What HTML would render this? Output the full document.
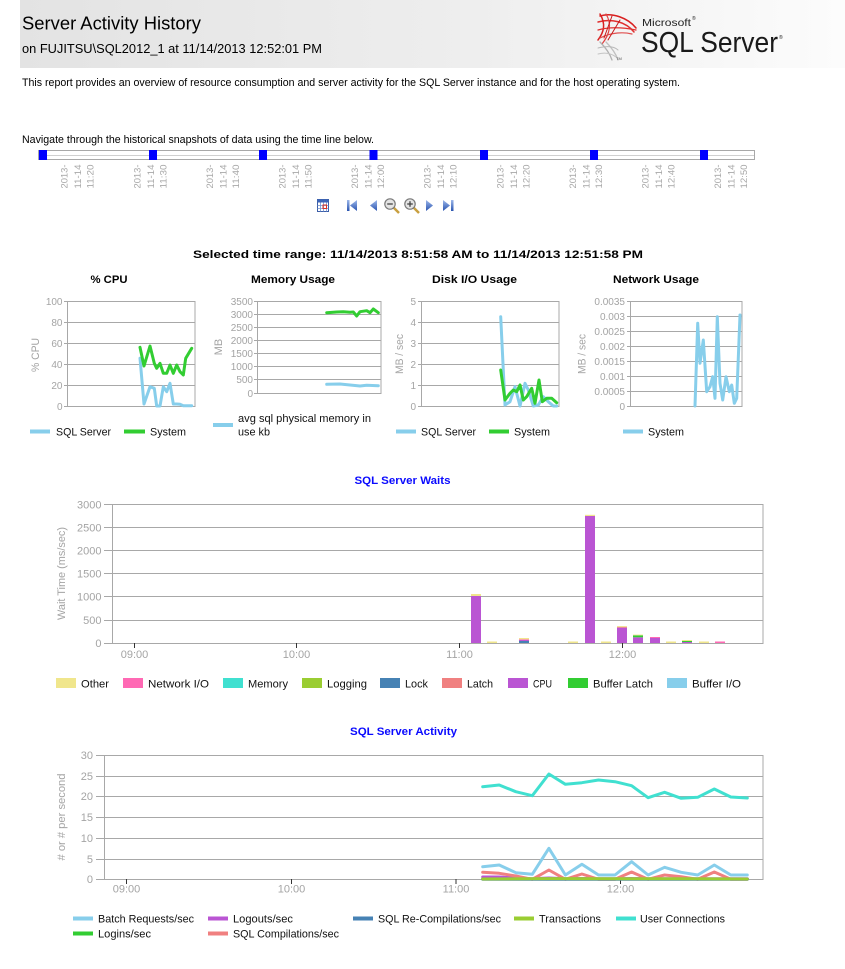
<!DOCTYPE html>
<html><head><meta charset="utf-8">
<style>
html,body{margin:0;padding:0;background:#fff;width:845px;height:969px;overflow:hidden;}
svg{display:block;}
text{font-family:"Liberation Sans",Arial,sans-serif;}
.ax{fill:#a4a4a4;font-size:10px;}
.ax11{fill:#a4a4a4;font-size:11px;}
.lg{fill:#111;font-size:11px;}
.tt{fill:#000;font-size:11px;font-weight:bold;}
.bt{fill:#0a0aff;font-size:11px;font-weight:bold;}
.tl{fill:#a8a8a8;font-size:9px;font-family:"Liberation Mono",monospace;}
.grid{stroke:#a8a8a8;stroke-width:1;fill:none;}
.ln{fill:none;stroke-width:3;stroke-linejoin:round;stroke-linecap:round;}
</style></head><body>
<svg width="845" height="969" viewBox="0 0 845 969" xmlns="http://www.w3.org/2000/svg">
<defs>
<linearGradient id="hg" x1="0" x2="1" y1="0" y2="0">
<stop offset="0" stop-color="#e3e3e3"/><stop offset="0.55" stop-color="#eeeeee"/><stop offset="1" stop-color="#fcfcfc"/>
</linearGradient>
<linearGradient id="bl" x1="0" x2="0" y1="0" y2="1">
<stop offset="0" stop-color="#9db8ea"/><stop offset="1" stop-color="#2a55b0"/>
</linearGradient>
</defs>

<!-- Header -->
<rect x="20" y="0" width="825" height="68" fill="url(#hg)"/>
<text x="22" y="29.5" font-size="18" textLength="179" lengthAdjust="spacingAndGlyphs" fill="#000">Server Activity History</text>
<text x="22" y="53" font-size="13" textLength="300" lengthAdjust="spacingAndGlyphs" fill="#000">on FUJITSU\SQL2012_1 at 11/14/2013 12:52:01 PM</text>

<!-- Logo -->
<g fill="none" stroke-linecap="round">
<path d="M600 16 C612 12,628 18,636 28" stroke="#d92020" stroke-width="1.5"/>
<path d="M598 22 C612 18,626 22,634 32" stroke="#e03030" stroke-width="1.5"/>
<path d="M600 14 C606 24,604 32,598 40" stroke="#d92020" stroke-width="1.5"/>
<path d="M606 14 C612 24,610 34,602 44" stroke="#e04040" stroke-width="1.2"/>
<path d="M598 30 C612 26,626 28,636 30" stroke="#e03030" stroke-width="1.3"/>
<path d="M600 38 C612 32,624 32,632 34" stroke="#e05050" stroke-width="1.2"/>
<path d="M612 16 L604 38" stroke="#c81818" stroke-width="1"/>
<path d="M620 20 L608 40" stroke="#c81818" stroke-width="1"/>
<path d="M600 42 C606 48,610 54,612 60" stroke="#b0b0b0" stroke-width="1.3"/>
<path d="M606 42 C612 48,616 54,618 60" stroke="#c0c0c0" stroke-width="1.3"/>
<path d="M598 48 C606 46,614 46,618 50" stroke="#b8b8b8" stroke-width="1"/>
<path d="M598 54 C606 52,612 54,616 57" stroke="#c4c4c4" stroke-width="1"/>
</g>
<text x="616" y="60" font-size="4" fill="#555">TM</text>
<text x="642" y="26" font-size="10.5" textLength="49" lengthAdjust="spacingAndGlyphs" fill="#222">Microsoft</text>
<text x="692" y="20" font-size="5" fill="#222">®</text>
<text x="641" y="52" font-size="29" textLength="137" lengthAdjust="spacingAndGlyphs" fill="#1a1a1a">SQL Server</text>
<text x="779" y="39" font-size="5" fill="#222">®</text>

<text x="22" y="86" font-size="11" textLength="658" lengthAdjust="spacingAndGlyphs" fill="#000">This report provides an overview of resource consumption and server activity for the SQL Server instance and for the host operating system.</text>
<text x="22" y="143" font-size="11" textLength="352" lengthAdjust="spacingAndGlyphs" fill="#000">Navigate through the historical snapshots of data using the time line below.</text>

<!-- Timeline -->
<rect x="38.5" y="150.5" width="716" height="9" fill="#fff" stroke="#a8a8a8"/>
<line x1="39" y1="155.5" x2="754" y2="155.5" stroke="#d0d0d0"/>
<g fill="#0000ff">
<rect x="39" y="150" width="8" height="10"/>
<rect x="149" y="150" width="8" height="10"/>
<rect x="259" y="150" width="8" height="10"/>
<rect x="369.5" y="150" width="8" height="10"/>
<rect x="480" y="150" width="8" height="10"/>
<rect x="590" y="150" width="8" height="10"/>
<rect x="700" y="150" width="8" height="10"/>
</g>
<g class="tl">
<text transform="translate(64.5,188.5) rotate(-90)" dy="0.35em" textLength="24" lengthAdjust="spacingAndGlyphs">2013-</text>
<text transform="translate(78,188.5) rotate(-90)" dy="0.35em" textLength="24" lengthAdjust="spacingAndGlyphs">11-14</text>
<text transform="translate(90.5,188.5) rotate(-90)" dy="0.35em" textLength="24" lengthAdjust="spacingAndGlyphs">11:20</text>
<text transform="translate(137.1,188.5) rotate(-90)" dy="0.35em" textLength="24" lengthAdjust="spacingAndGlyphs">2013-</text>
<text transform="translate(150.6,188.5) rotate(-90)" dy="0.35em" textLength="24" lengthAdjust="spacingAndGlyphs">11-14</text>
<text transform="translate(163.1,188.5) rotate(-90)" dy="0.35em" textLength="24" lengthAdjust="spacingAndGlyphs">11:30</text>
<text transform="translate(209.7,188.5) rotate(-90)" dy="0.35em" textLength="24" lengthAdjust="spacingAndGlyphs">2013-</text>
<text transform="translate(223.2,188.5) rotate(-90)" dy="0.35em" textLength="24" lengthAdjust="spacingAndGlyphs">11-14</text>
<text transform="translate(235.7,188.5) rotate(-90)" dy="0.35em" textLength="24" lengthAdjust="spacingAndGlyphs">11:40</text>
<text transform="translate(282.3,188.5) rotate(-90)" dy="0.35em" textLength="24" lengthAdjust="spacingAndGlyphs">2013-</text>
<text transform="translate(295.8,188.5) rotate(-90)" dy="0.35em" textLength="24" lengthAdjust="spacingAndGlyphs">11-14</text>
<text transform="translate(308.3,188.5) rotate(-90)" dy="0.35em" textLength="24" lengthAdjust="spacingAndGlyphs">11:50</text>
<text transform="translate(354.9,188.5) rotate(-90)" dy="0.35em" textLength="24" lengthAdjust="spacingAndGlyphs">2013-</text>
<text transform="translate(368.4,188.5) rotate(-90)" dy="0.35em" textLength="24" lengthAdjust="spacingAndGlyphs">11-14</text>
<text transform="translate(380.9,188.5) rotate(-90)" dy="0.35em" textLength="24" lengthAdjust="spacingAndGlyphs">12:00</text>
<text transform="translate(427.5,188.5) rotate(-90)" dy="0.35em" textLength="24" lengthAdjust="spacingAndGlyphs">2013-</text>
<text transform="translate(441,188.5) rotate(-90)" dy="0.35em" textLength="24" lengthAdjust="spacingAndGlyphs">11-14</text>
<text transform="translate(453.5,188.5) rotate(-90)" dy="0.35em" textLength="24" lengthAdjust="spacingAndGlyphs">12:10</text>
<text transform="translate(500.1,188.5) rotate(-90)" dy="0.35em" textLength="24" lengthAdjust="spacingAndGlyphs">2013-</text>
<text transform="translate(513.6,188.5) rotate(-90)" dy="0.35em" textLength="24" lengthAdjust="spacingAndGlyphs">11-14</text>
<text transform="translate(526.1,188.5) rotate(-90)" dy="0.35em" textLength="24" lengthAdjust="spacingAndGlyphs">12:20</text>
<text transform="translate(572.7,188.5) rotate(-90)" dy="0.35em" textLength="24" lengthAdjust="spacingAndGlyphs">2013-</text>
<text transform="translate(586.2,188.5) rotate(-90)" dy="0.35em" textLength="24" lengthAdjust="spacingAndGlyphs">11-14</text>
<text transform="translate(598.7,188.5) rotate(-90)" dy="0.35em" textLength="24" lengthAdjust="spacingAndGlyphs">12:30</text>
<text transform="translate(645.3,188.5) rotate(-90)" dy="0.35em" textLength="24" lengthAdjust="spacingAndGlyphs">2013-</text>
<text transform="translate(658.8,188.5) rotate(-90)" dy="0.35em" textLength="24" lengthAdjust="spacingAndGlyphs">11-14</text>
<text transform="translate(671.3,188.5) rotate(-90)" dy="0.35em" textLength="24" lengthAdjust="spacingAndGlyphs">12:40</text>
<text transform="translate(717.9,188.5) rotate(-90)" dy="0.35em" textLength="24" lengthAdjust="spacingAndGlyphs">2013-</text>
<text transform="translate(731.4,188.5) rotate(-90)" dy="0.35em" textLength="24" lengthAdjust="spacingAndGlyphs">11-14</text>
<text transform="translate(743.9,188.5) rotate(-90)" dy="0.35em" textLength="24" lengthAdjust="spacingAndGlyphs">12:50</text>
</g>

<!-- Nav icons -->
<g>
<rect x="317.5" y="199.5" width="11" height="12" fill="#fff" stroke="#3c5fa8"/>
<rect x="317.5" y="199.5" width="11" height="3" fill="#3c64b8"/>
<path d="M317.5 205.5 H328.5 M317.5 208.5 H328.5 M320.5 202.5 V211.5 M323.5 202.5 V211.5 M326.5 202.5 V211.5" stroke="#7090d0" stroke-width="0.8"/>
<rect x="323" y="205" width="3.5" height="3.5" fill="none" stroke="#e03020" stroke-width="1"/>
<rect x="347" y="200" width="2.5" height="11" fill="url(#bl)"/>
<path d="M357 200 L357 211 L350 205.5 Z" fill="url(#bl)"/>
<path d="M377 200 L377 211 L370 205.5 Z" fill="url(#bl)"/>
<line x1="393.5" y1="207.5" x2="399" y2="213" stroke="#c8a040" stroke-width="2.5"/>
<circle cx="390" cy="204" r="5.2" fill="#e4e4e4" stroke="#7a7a7a" stroke-width="1.2"/>
<line x1="387.2" y1="204" x2="392.8" y2="204" stroke="#444" stroke-width="1.3"/>
<line x1="413.5" y1="207.5" x2="419" y2="213" stroke="#c8a040" stroke-width="2.5"/>
<circle cx="410" cy="204" r="5.2" fill="#e4e4e4" stroke="#7a7a7a" stroke-width="1.2"/>
<line x1="407.2" y1="204" x2="412.8" y2="204" stroke="#444" stroke-width="1.3"/>
<line x1="410" y1="201.2" x2="410" y2="206.8" stroke="#444" stroke-width="1.3"/>
<path d="M426 200 L426 211 L433 205.5 Z" fill="url(#bl)"/>
<path d="M443 200 L443 211 L450 205.5 Z" fill="url(#bl)"/>
<rect x="451" y="200" width="2.5" height="11" fill="url(#bl)"/>
</g>

<text x="193" y="258" class="tt" textLength="450" lengthAdjust="spacingAndGlyphs">Selected time range:  11/14/2013 8:51:58 AM to 11/14/2013 12:51:58 PM</text>

<!-- Small chart titles -->
<text x="109" y="283" class="tt" text-anchor="middle" textLength="37" lengthAdjust="spacingAndGlyphs">% CPU</text>
<text x="293" y="283" class="tt" text-anchor="middle" textLength="84" lengthAdjust="spacingAndGlyphs">Memory Usage</text>
<text x="474.5" y="283" class="tt" text-anchor="middle" textLength="85" lengthAdjust="spacingAndGlyphs">Disk I/O Usage</text>
<text x="656" y="283" class="tt" text-anchor="middle" textLength="86" lengthAdjust="spacingAndGlyphs">Network Usage</text>

<!-- CPU chart -->
<g class="grid">
<path d="M64 301.5 H195 M64 322.5 H195 M64 343.5 H195 M64 364.5 H195 M64 385.5 H195 M64 406.5 H195"/>
<rect x="67.5" y="301.5" width="127.5" height="105"/>
</g>
<g class="ax" text-anchor="end">
<text x="62.5" y="305">100</text><text x="62.5" y="326">80</text><text x="62.5" y="347">60</text>
<text x="62.5" y="368">40</text><text x="62.5" y="389">20</text><text x="62.5" y="410">0</text>
</g>
<text class="ax11" transform="translate(35,355) rotate(-90)" text-anchor="middle" dy="0.35em" textLength="34" lengthAdjust="spacingAndGlyphs">% CPU</text>
<polyline class="ln" stroke="#87ceeb" points="140,358.3 144,404 150,386.7 154.3,388.3 156.7,406 160,406 163.3,386.7 166.7,391.7 170,383.3 173.3,404 176.7,404 180,404.3 183.3,405.7 186.7,405.7 191.7,405.7"/>
<polyline class="ln" stroke="#32cd32" points="140,347.3 144,366 150,346 154.3,363.3 156.7,368.3 160,363.3 163.3,373.3 166.7,373.3 170,365 173.3,373.3 176.7,365 180,371.7 183.3,375 185.7,358.3 191.7,348.3"/>
<line x1="30" y1="431.5" x2="50" y2="431.5" stroke="#87ceeb" stroke-width="4"/>
<text x="56" y="435.5" class="lg" textLength="55" lengthAdjust="spacingAndGlyphs">SQL Server</text>
<line x1="124" y1="431.5" x2="145" y2="431.5" stroke="#32cd32" stroke-width="4"/>
<text x="150" y="435.5" class="lg" textLength="36" lengthAdjust="spacingAndGlyphs">System</text>

<!-- Memory chart -->
<g class="grid">
<path d="M254 301.5 H381 M254 314.5 H381 M254 327.5 H381 M254 340.5 H381 M254 353.5 H381 M254 366.5 H381 M254 379.5 H381 M254 393.5 H381"/>
<rect x="257.5" y="301.5" width="123.5" height="92"/>
</g>
<g class="ax" text-anchor="end">
<text x="253" y="305">3500</text><text x="253" y="318">3000</text><text x="253" y="331">2500</text>
<text x="253" y="344">2000</text><text x="253" y="357">1500</text><text x="253" y="370">1000</text>
<text x="253" y="383">500</text><text x="253" y="397">0</text>
</g>
<text class="ax11" transform="translate(218,347) rotate(-90)" text-anchor="middle" dy="0.35em">MB</text>
<polyline class="ln" stroke="#32cd32" points="326.7,312.7 336.7,312 343.3,311.7 350,312.3 353.3,312 356.7,316 360,311.7 366.7,310.7 370,312.7 373.3,309 378.3,312.7"/>
<polyline class="ln" stroke="#87ceeb" points="326.7,384.3 340,384 350,385 360,386 366.7,385.3 378.3,385.7"/>
<line x1="213" y1="425" x2="233" y2="425" stroke="#87ceeb" stroke-width="4"/>
<text x="238" y="422" class="lg" textLength="133" lengthAdjust="spacingAndGlyphs">avg sql physical memory in</text>
<text x="238" y="435.5" class="lg" textLength="32" lengthAdjust="spacingAndGlyphs">use kb</text>

<!-- Disk chart -->
<g class="grid">
<path d="M418 301.5 H559 M418 322.5 H559 M418 343.5 H559 M418 364.5 H559 M418 385.5 H559 M418 406.5 H559"/>
<rect x="421.5" y="301.5" width="137.5" height="105"/>
</g>
<g class="ax" text-anchor="end">
<text x="416" y="305">5</text><text x="416" y="326">4</text><text x="416" y="347">3</text>
<text x="416" y="368">2</text><text x="416" y="389">1</text><text x="416" y="410">0</text>
</g>
<text class="ax11" transform="translate(399,354) rotate(-90)" text-anchor="middle" dy="0.35em" textLength="40" lengthAdjust="spacingAndGlyphs">MB / sec</text>
<polyline class="ln" stroke="#87ceeb" points="500.7,316.7 505,405 510,401.7 515,386.7 520,406 525,383.3 528.3,390 533.3,406 538.3,405 543.3,396.7 548.3,401.7 553.3,406 556.7,406"/>
<polyline class="ln" stroke="#32cd32" points="500.7,370 505,400 510,393.3 513.3,390 516.7,391.7 520,385 523.3,400 526.7,396.7 531.7,388.3 535,403.3 539,380 542.3,401.7 546.7,398.3 551.7,398.3 556.7,402.7"/>
<line x1="396" y1="431.5" x2="416" y2="431.5" stroke="#87ceeb" stroke-width="4"/>
<text x="421" y="435.5" class="lg" textLength="55" lengthAdjust="spacingAndGlyphs">SQL Server</text>
<line x1="489" y1="431.5" x2="509" y2="431.5" stroke="#32cd32" stroke-width="4"/>
<text x="514" y="435.5" class="lg" textLength="36" lengthAdjust="spacingAndGlyphs">System</text>

<!-- Network chart -->
<g class="grid">
<path d="M627 301.5 H742 M627 316.5 H742 M627 331.5 H742 M627 346.5 H742 M627 361.5 H742 M627 376.5 H742 M627 391.5 H742 M627 406.5 H742"/>
<rect x="630.5" y="301.5" width="111.5" height="105"/>
</g>
<g class="ax" text-anchor="end">
<text x="625" y="305">0.0035</text><text x="625" y="320">0.003</text><text x="625" y="335">0.0025</text>
<text x="625" y="350">0.002</text><text x="625" y="365">0.0015</text><text x="625" y="380">0.001</text>
<text x="625" y="395">0.0005</text><text x="625" y="410">0</text>
</g>
<text class="ax11" transform="translate(581.5,354) rotate(-90)" text-anchor="middle" dy="0.35em" textLength="40" lengthAdjust="spacingAndGlyphs">MB / sec</text>
<polyline class="ln" stroke="#87ceeb" points="695,406 697.7,323.3 700,363.3 703.3,340 706.7,391.7 710,386.7 712.7,376.7 715,398.3 717.3,316.7 720,383.3 722.7,400 726,376.7 729.3,391.7 731.7,385 734.3,403.3 736.7,398.3 740,315"/>
<line x1="623" y1="431.5" x2="643" y2="431.5" stroke="#87ceeb" stroke-width="4"/>
<text x="648" y="435.5" class="lg" textLength="36" lengthAdjust="spacingAndGlyphs">System</text>

<!-- SQL Server Waits -->
<text x="402.5" y="484" class="bt" text-anchor="middle" textLength="96" lengthAdjust="spacingAndGlyphs">SQL Server Waits</text>
<g class="grid">
<path d="M104 504.5 H763 M104 527.5 H763 M104 550.5 H763 M104 573.5 H763 M104 596.5 H763 M104 620.5 H763 M104 643.5 H763"/>
<rect x="112.5" y="504.5" width="650.5" height="139"/>
</g>
<g class="ax11" text-anchor="end">
<text x="101.5" y="508.5">3000</text><text x="101.5" y="531.5">2500</text><text x="101.5" y="554.5">2000</text>
<text x="101.5" y="577.5">1500</text><text x="101.5" y="600.5">1000</text><text x="101.5" y="624">500</text>
<text x="101.5" y="647">0</text>
</g>
<text class="ax11" transform="translate(61,573.5) rotate(-90)" text-anchor="middle" dy="0.35em" textLength="93" lengthAdjust="spacingAndGlyphs">Wait Time (ms/sec)</text>
<g stroke="#333" stroke-width="1">
<line x1="134.5" y1="643" x2="134.5" y2="648"/><line x1="296.5" y1="643" x2="296.5" y2="648"/>
<line x1="459.5" y1="643" x2="459.5" y2="648"/><line x1="622.5" y1="643" x2="622.5" y2="648"/>
</g>
<g class="ax11" text-anchor="middle">
<text x="134.5" y="658">09:00</text><text x="296.5" y="658">10:00</text><text x="459.5" y="658">11:00</text><text x="622.5" y="658">12:00</text>
</g>
<!-- bars -->
<g>
<rect x="471" y="596" width="10" height="47" fill="#ba55d3"/>
<rect x="471" y="594" width="10" height="2" fill="#f0e68c"/>
<rect x="487" y="641.5" width="10" height="1.5" fill="#f0e68c"/>
<rect x="519" y="641" width="10" height="2" fill="#4682b4"/>
<rect x="519" y="640" width="10" height="1" fill="#ba55d3"/>
<rect x="519" y="639.3" width="10" height="0.8" fill="#ff69b4"/>
<rect x="519" y="638" width="10" height="1.3" fill="#f0e68c"/>
<rect x="568" y="641.5" width="10" height="1.5" fill="#f0e68c"/>
<rect x="585" y="516" width="10" height="127" fill="#ba55d3"/>
<rect x="585" y="514.8" width="10" height="1.2" fill="#f0e68c"/>
<rect x="601" y="641.5" width="10" height="1.5" fill="#f0e68c"/>
<rect x="617" y="627.7" width="10" height="15.3" fill="#ba55d3"/>
<rect x="617" y="626.8" width="10" height="0.9" fill="#f08080"/>
<rect x="617" y="626" width="10" height="0.8" fill="#f0e68c"/>
<rect x="633" y="637.3" width="10" height="5.7" fill="#ba55d3"/>
<rect x="633" y="635.3" width="10" height="2" fill="#32cd32"/>
<rect x="633" y="634.6" width="10" height="0.7" fill="#f0e68c"/>
<rect x="650" y="638" width="10" height="5" fill="#ba55d3"/>
<rect x="650" y="637" width="10" height="1" fill="#ff69b4"/>
<rect x="666" y="641.5" width="10" height="1.5" fill="#f0e68c"/>
<rect x="682" y="642" width="10" height="1" fill="#ba55d3"/>
<rect x="682" y="641" width="10" height="1" fill="#32cd32"/>
<rect x="682" y="640" width="10" height="1" fill="#f0e68c"/>
<rect x="699" y="641.5" width="10" height="1.5" fill="#f0e68c"/>
<rect x="715" y="641.5" width="10" height="1.5" fill="#ff69b4"/>
</g>
<!-- waits legend -->
<g>
<rect x="56" y="678" width="20" height="10" fill="#f0e68c"/>
<text x="81" y="687.5" class="lg" textLength="28" lengthAdjust="spacingAndGlyphs">Other</text>
<rect x="123" y="678" width="20" height="10" fill="#ff69b4"/>
<text x="148" y="687.5" class="lg" textLength="61" lengthAdjust="spacingAndGlyphs">Network I/O</text>
<rect x="223" y="678" width="20" height="10" fill="#40e0d0"/>
<text x="248" y="687.5" class="lg" textLength="40" lengthAdjust="spacingAndGlyphs">Memory</text>
<rect x="302" y="678" width="20" height="10" fill="#9acd32"/>
<text x="327" y="687.5" class="lg" textLength="40" lengthAdjust="spacingAndGlyphs">Logging</text>
<rect x="380" y="678" width="20" height="10" fill="#4682b4"/>
<text x="405" y="687.5" class="lg" textLength="23" lengthAdjust="spacingAndGlyphs">Lock</text>
<rect x="442" y="678" width="20" height="10" fill="#f08080"/>
<text x="467" y="687.5" class="lg" textLength="26" lengthAdjust="spacingAndGlyphs">Latch</text>
<rect x="508" y="678" width="20" height="10" fill="#ba55d3"/>
<text x="533" y="687.5" class="lg" textLength="19" lengthAdjust="spacingAndGlyphs">CPU</text>
<rect x="568" y="678" width="20" height="10" fill="#32cd32"/>
<text x="593" y="687.5" class="lg" textLength="60" lengthAdjust="spacingAndGlyphs">Buffer Latch</text>
<rect x="667" y="678" width="20" height="10" fill="#87ceeb"/>
<text x="692" y="687.5" class="lg" textLength="49" lengthAdjust="spacingAndGlyphs">Buffer I/O</text>
</g>

<!-- SQL Server Activity -->
<text x="403.5" y="735" class="bt" text-anchor="middle" textLength="107" lengthAdjust="spacingAndGlyphs">SQL Server Activity</text>
<g class="grid">
<path d="M96 755.5 H763 M96 776.5 H763 M96 796.5 H763 M96 817.5 H763 M96 838.5 H763 M96 859.5 H763 M96 879.5 H763"/>
<rect x="104.5" y="755.5" width="658.5" height="124"/>
</g>
<g class="ax11" text-anchor="end">
<text x="93" y="759">30</text><text x="93" y="780">25</text><text x="93" y="800">20</text>
<text x="93" y="821">15</text><text x="93" y="842">10</text><text x="93" y="863">5</text><text x="93" y="883">0</text>
</g>
<text class="ax11" transform="translate(61,817) rotate(-90)" text-anchor="middle" dy="0.35em" textLength="87" lengthAdjust="spacingAndGlyphs"># or # per second</text>
<g stroke="#333" stroke-width="1">
<line x1="126.5" y1="879" x2="126.5" y2="884"/><line x1="291.5" y1="879" x2="291.5" y2="884"/>
<line x1="456" y1="879" x2="456" y2="884"/><line x1="620.5" y1="879" x2="620.5" y2="884"/>
</g>
<g class="ax11" text-anchor="middle">
<text x="126.5" y="892.5">09:00</text><text x="291.5" y="892.5">10:00</text><text x="456" y="892.5">11:00</text><text x="620.5" y="892.5">12:00</text>
</g>
<polyline class="ln" stroke="#87ceeb" points="482.7,866.7 499.2,865 515.8,872.7 532.3,874.3 548.9,848.3 565.4,875 581.9,864.3 598.5,875 615,875 631.6,861.7 648.1,875 664.6,867.3 681.2,872.3 697.7,875 714.3,865 730.8,875 747.3,875"/>
<polyline class="ln" stroke="#32cd32" points="482.7,879 747.3,879"/>
<polyline class="ln" stroke="#ba55d3" points="482.7,877 499.2,877 515.8,878 532.3,878.8 548.9,878 565.4,878.8 581.9,878.5 598.5,878.8 615,878.8 631.6,878.5 648.1,878.8 747.3,878.8"/>
<polyline class="ln" stroke="#f08080" points="482.7,872.3 499.2,873.3 515.8,876 532.3,879.3 548.9,870 565.4,879.3 581.9,874 598.5,879.3 615,879.3 631.6,872 648.1,879.3 664.6,875 681.2,876.7 697.7,879.3 714.3,872 730.8,879.3 747.3,879.3"/>
<polyline class="ln" stroke="#4682b4" stroke-width="2" points="482.7,879.2 747.3,879.2"/>
<polyline class="ln" stroke="#9acd32" points="482.7,879 548.9,878.6 615,878.8 681.2,878.8 747.3,879"/>
<polyline class="ln" stroke="#40e0d0" points="482.7,786.7 499.2,785 515.8,791.7 532.3,795.7 548.9,774 565.4,784.3 581.9,782.7 598.5,780 615,781.7 631.6,785.7 648.1,797.7 664.6,792.3 681.2,798.3 697.7,797.3 714.3,789 730.8,797 747.3,798"/>
<!-- activity legend -->
<g stroke-width="4">
<line x1="73" y1="918.5" x2="93" y2="918.5" stroke="#87ceeb"/>
<line x1="208" y1="918.5" x2="228" y2="918.5" stroke="#ba55d3"/>
<line x1="353" y1="918.5" x2="373" y2="918.5" stroke="#4682b4"/>
<line x1="514" y1="918.5" x2="534" y2="918.5" stroke="#9acd32"/>
<line x1="616" y1="918.5" x2="636" y2="918.5" stroke="#40e0d0"/>
<line x1="73" y1="933.5" x2="93" y2="933.5" stroke="#32cd32"/>
<line x1="208" y1="933.5" x2="228" y2="933.5" stroke="#f08080"/>
</g>
<text x="98" y="922.5" class="lg" textLength="96" lengthAdjust="spacingAndGlyphs">Batch Requests/sec</text>
<text x="233" y="922.5" class="lg" textLength="60" lengthAdjust="spacingAndGlyphs">Logouts/sec</text>
<text x="378" y="922.5" class="lg" textLength="123" lengthAdjust="spacingAndGlyphs">SQL Re-Compilations/sec</text>
<text x="539" y="922.5" class="lg" textLength="62" lengthAdjust="spacingAndGlyphs">Transactions</text>
<text x="640" y="922.5" class="lg" textLength="85" lengthAdjust="spacingAndGlyphs">User Connections</text>
<text x="98" y="937.5" class="lg" textLength="53" lengthAdjust="spacingAndGlyphs">Logins/sec</text>
<text x="233" y="937.5" class="lg" textLength="106" lengthAdjust="spacingAndGlyphs">SQL Compilations/sec</text>
</svg>
</body></html>
